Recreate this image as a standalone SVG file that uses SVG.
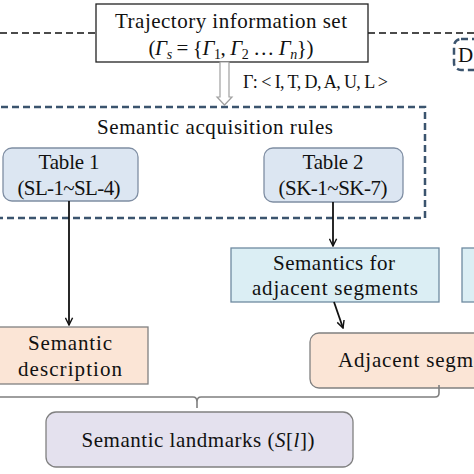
<svg xmlns="http://www.w3.org/2000/svg" width="474" height="474" viewBox="0 0 474 474">
<style>
text{font-family:"Liberation Serif","DejaVu Serif",serif;fill:#111;font-size:21px;text-anchor:middle}
.blue{fill:#dce6f2;stroke:#7f8ea3;stroke-width:1.3}
.cyan{fill:#dbeef4;stroke:#6f8aa0;stroke-width:1.3}
.peach{fill:#fbe5d6;stroke:#808080;stroke-width:1.3}
.lav{fill:#e4e1ee;stroke:#808080;stroke-width:1.3}
.dash{fill:none;stroke:#3b546e;stroke-width:2.5;stroke-dasharray:7,4}
.conn{stroke:#111;stroke-width:1.8;fill:none}
.it{font-style:italic}
</style>
<defs>
<marker id="ah" viewBox="0 0 10 10" refX="9" refY="5" markerWidth="9" markerHeight="9" markerUnits="userSpaceOnUse" orient="auto">
<path d="M1,1 L9,5 L1,9" fill="none" stroke="#111" stroke-width="1.6"/>
</marker>
</defs>
<rect width="474" height="474" fill="#fff"/>
<g id="dashline">
<line x1="0" y1="33" x2="95" y2="33" stroke="#111" stroke-width="1.5" stroke-dasharray="7,4"/>
<line x1="368" y1="33" x2="474" y2="33" stroke="#111" stroke-width="1.5" stroke-dasharray="7,4"/>
</g>
<g id="traj">
<rect x="96" y="4" width="272" height="58" fill="#fff" stroke="#222" stroke-width="1.3"/>
<text x="231" y="28" textLength="232" lengthAdjust="spacing">Trajectory information set</text>
<text x="231" y="55" textLength="165" lengthAdjust="spacing">(<tspan class="it">Γ</tspan><tspan class="it" font-size="14" dy="4">s</tspan><tspan dy="-4"> = {</tspan><tspan class="it">Γ</tspan><tspan font-size="14" dy="4">1</tspan><tspan dy="-4">, </tspan><tspan class="it">Γ</tspan><tspan font-size="14" dy="4">2</tspan><tspan dy="-4"> … </tspan><tspan class="it">Γ</tspan><tspan class="it" font-size="14" dy="4">n</tspan><tspan dy="-4">})</tspan></text>
</g>
<g id="dnode">
<rect x="454" y="39" width="40" height="31" rx="7" fill="#fff" stroke="#3b546e" stroke-width="2.5" stroke-dasharray="7,4"/>
<text x="458" y="62" style="text-anchor:start">D</text>
</g>
<g id="rules">
<rect x="-10" y="107" width="435" height="111" class="dash"/>
<text x="215" y="134" textLength="236" lengthAdjust="spacing">Semantic acquisition rules</text>
</g>
<g id="table1">
<rect x="3" y="148" width="135" height="53" rx="9" class="blue"/>
<text x="69" y="169" textLength="61" lengthAdjust="spacing">Table 1</text>
<text x="69" y="195" textLength="103" lengthAdjust="spacing">(SL-1~SL-4)</text>
</g>
<g id="table2">
<rect x="264" y="148" width="139" height="54" rx="9" class="blue"/>
<text x="333" y="169" textLength="61" lengthAdjust="spacing">Table 2</text>
<text x="333" y="195" textLength="109" lengthAdjust="spacing">(SK-1~SK-7)</text>
</g>
<g id="semadj">
<rect x="231" y="248" width="208" height="54" class="cyan"/>
<text x="334" y="270" textLength="122" lengthAdjust="spacing">Semantics for</text>
<text x="335" y="295" textLength="166" lengthAdjust="spacing">adjacent segments</text>
</g>
<g id="rightbox">
<rect x="462" y="248" width="30" height="54" class="cyan"/>
</g>
<g id="semdesc">
<rect x="-5" y="327" width="153" height="57" class="peach"/>
<text x="70" y="350" textLength="84" lengthAdjust="spacing">Semantic</text>
<text x="70" y="376" textLength="104" lengthAdjust="spacing">description</text>
</g>
<g id="adjseg">
<rect x="310" y="333" width="190" height="55" rx="9" class="peach"/>
<text x="338" y="367" style="text-anchor:start" textLength="172" lengthAdjust="spacing">Adjacent segments</text>
</g>
<g id="landmarks">
<rect x="46" y="412" width="307" height="55" rx="10" class="lav"/>
<text x="198" y="447" textLength="233" lengthAdjust="spacing">Semantic landmarks (<tspan class="it">S</tspan>[<tspan class="it">l</tspan>])</text>
</g>
<g id="connectors">
<path d="M220,62 V97 H217 L224.5,105 L232,97 H229 V62 Z" fill="#fff" stroke="#a0a0a0" stroke-width="1.2"/>
<text x="243" y="88" style="text-anchor:start;font-size:18px" textLength="145" lengthAdjust="spacing">Γ: &lt; I, T, D, A, U, L &gt;</text>
<line x1="69" y1="201" x2="69" y2="325" class="conn" marker-end="url(#ah)"/>
<line x1="333" y1="202" x2="333" y2="246" class="conn" marker-end="url(#ah)"/>
<line x1="334" y1="302" x2="343" y2="328" class="conn" marker-end="url(#ah)"/>
<path d="M0,397 H193 Q197,397 197,402 V408 M197,402 Q197,397 201,397 H435 Q439,397 439,393 V385" fill="none" stroke="#7f7f7f" stroke-width="1.6"/>
</g>
</svg>
